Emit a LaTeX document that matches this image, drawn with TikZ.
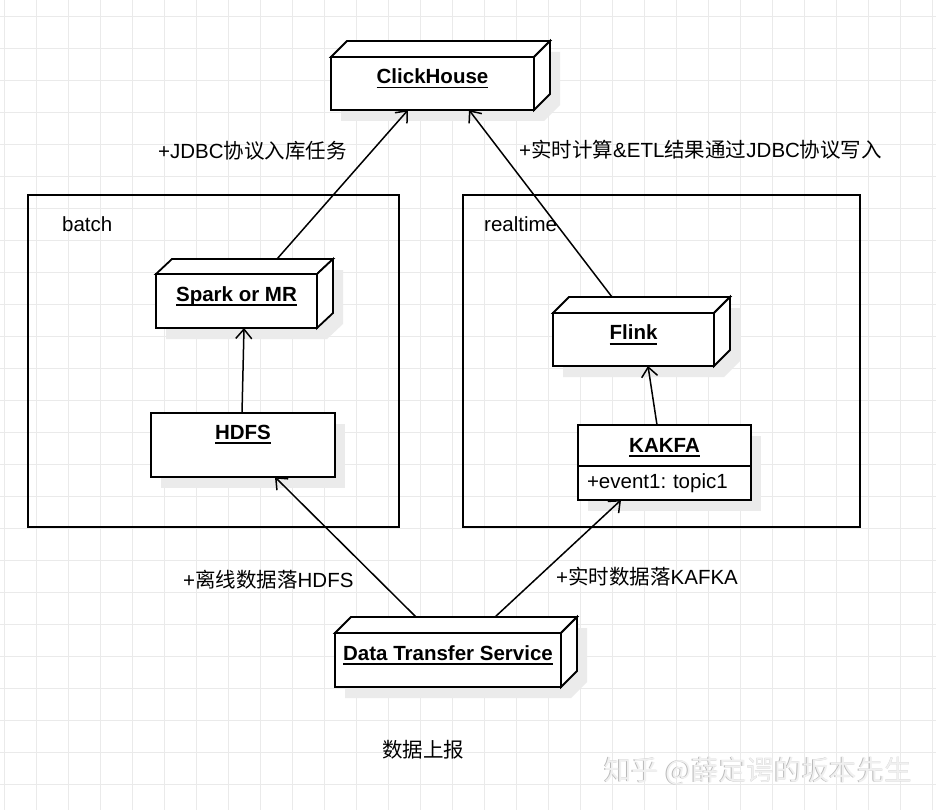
\documentclass[tikz,border=0pt]{standalone}
\usepackage{fontspec}
\setmainfont{Liberation Sans}
\newfontfamily\cjk{Noto Sans CJK SC}
\usetikzlibrary{arrows.meta,calc}
\pgfdeclarelayer{bg}
\pgfsetlayers{bg,main}
\definecolor{gridc}{HTML}{EAEAEA}
\definecolor{shadowc}{HTML}{EBEBEB}
\frenchspacing
\newcommand\myul[1]{\setbox0\hbox{#1}\rlap{\rule[-5pt]{\wd0}{1.6pt}}\box0}
\newcommand\cubefaces[3]{%
  \filldraw[boxline] (#1.north west) -- ++(#2,-#3) -- ([shift={(#2,-#3)}]#1.north east) -- (#1.north east) -- cycle;
  \filldraw[boxline] (#1.north east) -- ++(#2,-#3) -- ([shift={(#2,-#3)}]#1.south east) -- (#1.south east) -- cycle;
  \begin{pgfonlayer}{bg}
  \fill[shadowc] ([shift={(10,11)}]#1.south west) -- ([shift={(10,11)}]#1.north west)
     -- ([shift={(10+#2,11-#3)}]#1.north west) -- ([shift={(10+#2,11-#3)}]#1.north east)
     -- ([shift={(10+#2,11-#3)}]#1.south east) -- ([shift={(10,11)}]#1.south east) -- cycle;
  \end{pgfonlayer}}
\newcommand\boxshadow[1]{%
  \begin{pgfonlayer}{bg}
  \fill[shadowc] ([shift={(10,11)}]#1.south west) rectangle ([shift={(10,11)}]#1.north east);
  \end{pgfonlayer}}
\begin{document}
\begin{tikzpicture}[x=1pt,y=-1pt,
  boxline/.style={draw=black,line width=1.8pt,fill=white,line join=miter},
  face/.style={boxline,inner sep=0pt,outer sep=0pt,font=\bfseries\fontsize{20.5}{24}\selectfont,text height=15pt,text depth=15pt},
  plainbox/.style={boxline,inner sep=0pt,outer sep=0pt},
  container/.style={draw=black,line width=1.4pt,inner sep=0pt,outer sep=0pt},
  lbl/.style={font=\fontsize{20.5}{24}\selectfont,inner sep=0pt,anchor=base west},
  arr/.style={draw=black,line width=1.5pt,-{Straight Barb[length=9.5pt,width=16pt,line width=1.5pt]}}
]
\useasboundingbox (0,0) rectangle (936,810);
\begin{pgfonlayer}{bg}
\fill[white] (0,0) rectangle (936,810);
\foreach \i in {0,...,29} \draw[gridc,line width=0.9pt] (4+32*\i,0) -- (4+32*\i,810);
\foreach \j in {0,...,24} \draw[gridc,line width=0.9pt] (0,16+32*\j) -- (936,16+32*\j);
\end{pgfonlayer}

% containers
\node[container,minimum width=371pt,minimum height=332pt] (batch) at (213.5,361) {};
\node[container,minimum width=397pt,minimum height=332pt] (realtime) at (661.5,361) {};
\node[lbl] (batchL) at (62,232) {batch};
\node[lbl] (realtimeL) at (484,232) {realtime};

% ClickHouse
\node[face,minimum width=203pt,minimum height=53pt] (ch) at (432.5,83.5) {\myul{ClickHouse}};
\cubefaces{ch}{16}{16}

% Spark or MR
\node[face,minimum width=161pt,minimum height=54pt] (spark) at (236.5,301) {\myul{Spark or MR}};
\cubefaces{spark}{16}{15}

% HDFS
\node[face,minimum width=184pt,minimum height=64pt,text depth=27pt] (hdfs) at (243,445) {\myul{HDFS}};
\boxshadow{hdfs}

% Flink
\node[face,minimum width=161pt,minimum height=53pt] (flink) at (633.5,339.5) {\myul{Flink}};
\cubefaces{flink}{16}{16}

% KAKFA
\node[face,minimum width=173pt,minimum height=41pt,text depth=2pt] (kafkaT) at (664.5,445.5) {\myul{KAKFA}};
\node[plainbox,minimum height=34pt,text width=155pt,inner xsep=9pt,align=left,
      font=\fontsize{20.5}{24}\selectfont,anchor=north] (kafkaA) at (kafkaT.south) {+event1: topic1};
\begin{pgfonlayer}{bg}
\fill[shadowc] ([shift={(10,11)}]kafkaA.south west) rectangle ([shift={(10,11)}]kafkaT.north east);
\end{pgfonlayer}

% Data Transfer Service
\node[face,minimum width=226pt,minimum height=54pt] (dts) at (448,660) {\myul{Data Transfer Service}};
\cubefaces{dts}{16}{16}

% connectors
\draw[arr] ([shift={(40.5,-15)}]spark.north) -- ([shift={(-24.5,0)}]ch.south);
\draw[arr] ([shift={(-21.5,-16)}]flink.north) -- ([shift={(36.5,0)}]ch.south);
\draw[arr] ([shift={(-1,0)}]hdfs.north) -- ([shift={(7.5,0)}]spark.south);
\draw[arr] ([shift={(-7.5,0)}]kafkaT.north) -- ([shift={(14.5,0)}]flink.south);
\draw[arr] ([shift={(-32,-16)}]dts.north) -- ([shift={(32,0)}]hdfs.south);
\draw[arr] ([shift={(47,-16)}]dts.north) -- ([shift={(-43.5,0)}]kafkaA.south);

% labels
\node[lbl] (l1) at (158,159) {+JDBC{\cjk 协议入库任务}};
\node[lbl] (l2) at (519,158) {+{\cjk 实时计算}\&ETL{\cjk 结果通过}JDBC{\cjk 协议写入}};
\node[lbl] (l3) at (183,587) {+{\cjk 离线数据落}HDFS};
\node[lbl] (l4) at (556,584) {+{\cjk 实时数据落}KAFKA};
\node[font=\cjk\fontsize{20.5}{24}\selectfont,inner sep=0pt] (up) at (423,750) {数据上报};

% watermark
\node[font=\cjk\fontsize{27.6}{30}\selectfont,inner sep=0pt,text=gray!55] (wmS) at (757.5,771.5) {知乎 @薛定谔的坂本先生};
\node[font=\cjk\fontsize{27.6}{30}\selectfont,inner sep=0pt,text=gray!12] (wm) at (758.3,770.7) {知乎 @薛定谔的坂本先生};
\end{tikzpicture}
\end{document}
